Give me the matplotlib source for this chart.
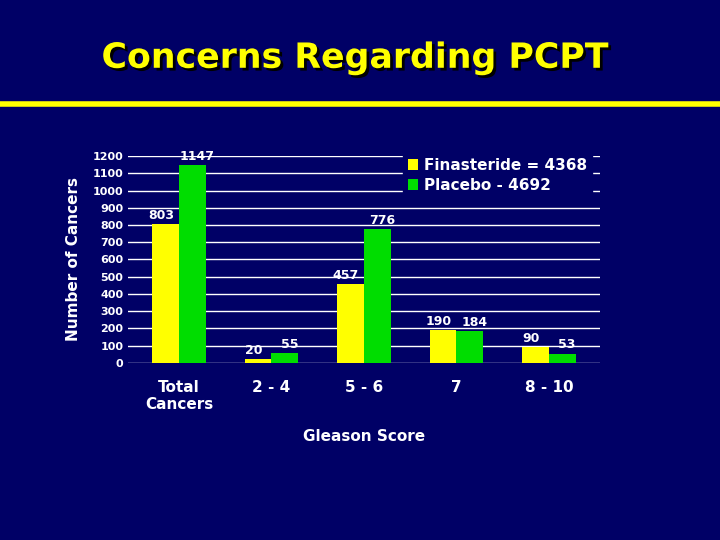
import matplotlib.pyplot as plt
import matplotlib.patheffects as pe
import numpy as np

categories = ["Total\nCancers", "2 - 4", "5 - 6", "7", "8 - 10"]
finasteride = [803, 20, 457, 190, 90]
placebo = [1147, 55, 776, 184, 53]
yticks = list(range(0, 1300, 100))

bg = "#000066"
fig = plt.figure(figsize=(7.2, 5.4), dpi=100, facecolor=bg)
fig.text(0.493, 0.893, "Concerns Regarding PCPT", color="#FFFF00", fontsize=25,
         fontweight="heavy", ha="center", va="center", family="DejaVu Sans",
         path_effects=[pe.withSimplePatchShadow(offset=(2, -2), shadow_rgbFace="black", alpha=1)])
fig.add_artist(plt.Line2D([0, 1], [0.808, 0.808], color="#FFFF00", lw=4))

ax = fig.add_axes([0.178, 0.328, 0.655, 0.383])
ax.set_facecolor(bg)
x = np.arange(len(categories))
w = 0.29
ax.bar(x - w/2, finasteride, w, color="#FFFF00", zorder=3, label="Finasteride = 4368")
ax.bar(x + w/2, placebo, w, color="#00DD00", zorder=3, label="Placebo - 4692")
for xi, v in zip(x, finasteride):
    ax.text(xi - w/2 - 0.05, v + 15, str(v), color="white", fontsize=9, fontweight="bold", ha="center", va="bottom")
for xi, v in zip(x, placebo):
    ax.text(xi + w/2 + 0.05, v + 15, str(v), color="white", fontsize=9, fontweight="bold", ha="center", va="bottom")
ax.set_ylim(0, 1200)
ax.set_xlim(-0.55, 4.55)
ax.set_yticks(yticks)
ax.yaxis.grid(True, color="white", lw=1)
ax.set_axisbelow(True)
for s in ax.spines.values():
    s.set_visible(False)
ax.tick_params(colors="white", length=0, labelsize=8)
for t in ax.get_yticklabels():
    t.set_fontweight("bold")
ax.set_xticks(x)
ax.set_xticklabels(categories, fontsize=11, fontweight="bold", color="white")
ax.tick_params(axis="x", pad=12)
ax.set_ylabel("Number of Cancers", color="white", fontsize=11, fontweight="bold", labelpad=8)
ax.set_xlabel("Gleason Score", color="white", fontsize=11, fontweight="bold", labelpad=12)
leg = ax.legend(loc="upper right", bbox_to_anchor=(1.0, 1.05), facecolor=bg, edgecolor=bg,
                framealpha=1, fontsize=11, handlelength=0.7, handleheight=0.7,
                handletextpad=0.4, borderpad=0.3, labelspacing=0.3)
for t in leg.get_texts():
    t.set_color("white"); t.set_fontweight("bold")
fig.savefig("out.png", facecolor=bg)
